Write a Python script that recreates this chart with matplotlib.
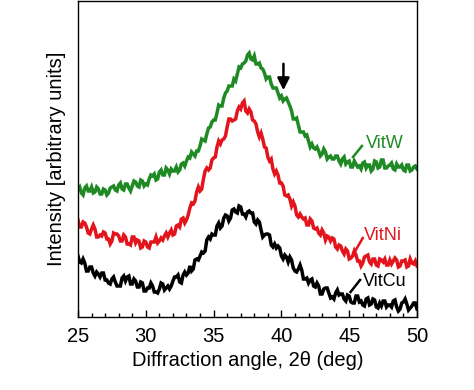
import numpy as np
import matplotlib
matplotlib.use("Agg")
import matplotlib.pyplot as plt

plt.rcParams['font.family'] = ['Liberation Sans', 'DejaVu Sans']

# readings on a 0.25 deg grid (25.00, 25.25, ... 50.00)
angle_main = np.arange(25.0, 50.0001, 0.25)
# readings half-way between (25.125, 25.375, ... 49.875)
angle_mid = np.arange(25.125, 49.9, 0.25)

vitw = [128, 124, 129, 126, 130, 125, 128, 123, 127, 124,
        130, 127, 132, 128, 133, 129, 131, 135, 130, 136,
        133, 138, 141, 137, 145, 142, 149, 143, 146, 150,
        147, 154, 156, 159, 163, 166, 171, 177, 183, 190,
        197, 204, 211, 219, 226, 231, 238, 243, 249, 254,
        262, 258, 261, 253, 249, 244, 240, 233, 229, 224,
        221, 218, 215, 206, 198, 192, 185, 181, 176, 173,
        168, 166, 163, 165, 160, 158, 161, 156, 158, 153,
        156, 150, 153, 151, 154, 149, 152, 148, 155, 150,
        157, 149, 152, 148, 153, 150, 147, 152, 146, 150,
        148]
vitw_mid = [130, 122, 131, 126, 124, 130, 123, 128, 122, 129,
            131, 126, 134, 127, 133, 126, 136, 131, 137, 131,
            132, 142, 143, 138, 147, 142, 147, 148, 146, 145,
            153, 151, 160, 165, 161, 166, 178, 176, 189, 195,
            197, 212, 211, 224, 231, 231, 236, 250, 253, 256,
            264, 257, 253, 254, 248, 238, 240, 229, 229, 219,
            216, 219, 211, 198, 199, 185, 185, 182, 170, 169,
            170, 161, 168, 158, 161, 158, 161, 153, 160, 155,
            150, 156, 150, 148, 155, 152, 146, 156, 149, 157,
            149, 151, 154, 147, 150, 152, 146, 152, 147, 151]

vitni = [97, 90, 94, 84, 88, 88, 80, 81, 84, 78,
         76, 83, 81, 76, 80, 73, 80, 74, 76, 70,
         75, 69, 75, 80, 76, 77, 84, 84, 82, 91,
         90, 99, 97, 109, 113, 125, 126, 138, 149, 149,
         159, 170, 173, 178, 190, 198, 197, 206, 208, 216,
         204, 205, 196, 185, 184, 170, 160, 158, 143, 142,
         134, 122, 122, 111, 111, 100, 100, 99, 92, 96,
         88, 84, 87, 77, 80, 79, 70, 72, 66, 68,
         58, 61, 62, 56, 54, 61, 55, 58, 52, 58,
         55, 52, 57, 56, 57, 51, 56, 50, 58, 53,
         51]
vitni_mid = [90, 95, 90, 83, 92, 80, 82, 85, 78, 73,
             84, 83, 76, 82, 73, 72, 80, 77, 69, 76,
             70, 75, 75, 74, 79, 81, 80, 87, 83, 92,
             98, 94, 102, 114, 116, 130, 128, 146, 147, 157,
             160, 176, 177, 181, 198, 196, 198, 210, 214, 206,
             208, 197, 193, 180, 178, 169, 156, 148, 146, 134,
             131, 121, 118, 115, 102, 103, 98, 92, 98, 89,
             89, 82, 84, 81, 76, 78, 68, 71, 63, 66,
             59, 66, 56, 51, 60, 62, 53, 58, 51, 57,
             58, 52, 53, 59, 50, 56, 57, 51, 54, 56]

vitcu = [61, 54, 54, 46, 50, 41, 43, 44, 37, 34,
         38, 35, 31, 39, 36, 41, 33, 36, 30, 34,
         26, 29, 31, 25, 28, 33, 29, 28, 36, 40,
         35, 42, 42, 51, 48, 58, 61, 64, 77, 78,
         82, 91, 89, 99, 101, 99, 108, 104, 110, 103,
         105, 104, 95, 97, 87, 82, 83, 72, 73, 71,
         61, 62, 55, 57, 46, 48, 47, 38, 34, 38,
         30, 31, 23, 29, 24, 20, 24, 22, 23, 16,
         21, 14, 21, 15, 12, 18, 12, 18, 10, 14,
         16, 10, 12, 16, 10, 8, 15, 13, 9, 14,
         8]
vitcu_mid = [55, 58, 46, 50, 44, 45, 40, 44, 37, 33,
             40, 31, 31, 41, 40, 33, 38, 30, 35, 26,
             29, 34, 25, 24, 34, 27, 31, 31, 40, 42,
             34, 45, 44, 46, 57, 57, 65, 66, 80, 83,
             82, 94, 91, 102, 96, 107, 105, 111, 103, 100,
             106, 104, 93, 95, 80, 83, 82, 70, 69, 69,
             58, 60, 60, 49, 45, 52, 38, 39, 37, 31,
             34, 23, 28, 29, 19, 18, 27, 23, 18, 22,
             15, 14, 21, 16, 11, 19, 13, 17, 9, 11,
             16, 12, 10, 17, 6, 14, 18, 7, 11, 14]

series_names = ["VitW", "VitNi", "VitCu"]
colors = ["#1f8a24", "#e3141c", "#000000"]

fig = plt.figure(figsize=(4.74, 3.90), dpi=100)
ax = fig.add_axes([78/474, (390-317)/390, (417-78)/474, 316/390])

for main, mid, c in zip([vitw, vitni, vitcu], [vitw_mid, vitni_mid, vitcu_mid], colors):
    x = np.empty(len(main) + len(mid))
    y = np.empty(len(main) + len(mid))
    x[0::2], x[1::2] = angle_main, angle_mid
    y[0::2], y[1::2] = main, mid
    ax.plot(x, y, color=c, lw=2.5, solid_joinstyle='miter')

ax.set_xlim(25, 50)
ax.set_ylim(0, 316)
ax.set_xticks([25, 30, 35, 40, 45, 50])
ax.set_xticks(np.arange(25, 51, 1), minor=True)
ax.set_yticks([])
ax.tick_params(axis='x', which='major', direction='in', length=5, width=1, labelsize=14.5, pad=7)
ax.tick_params(axis='x', which='minor', direction='in', length=3, width=1)
for s in ax.spines.values():
    s.set_linewidth(1.0)

ax.set_xlabel("Diffraction angle, 2\u03b8 (deg)", fontsize=14.5, labelpad=4)
ax.set_ylabel("Intensity [arbitrary units]", fontsize=14.5, labelpad=9)

# labels with leader lines
label_pos = [(46.2, 174), (46.1, 82), (46.0, 35)]
leaders = [((45.28, 160), (45.94, 171)), ((45.4, 65), (46.0, 79)), ((45.1, 25), (45.8, 37))]
for name, c, (tx, ty), ((x0, y0), (x1, y1)) in zip(series_names, colors, label_pos, leaders):
    ax.text(tx, ty, name, color=c, fontsize=13, va='center', ha='left')
    ax.plot([x0, x1], [y0, y1], color=c, lw=1.8)

# arrow marking shoulder
ax.annotate("", xy=(40.15, 224), xytext=(40.15, 256),
            arrowprops=dict(arrowstyle='-|>', color='black', lw=1.8, mutation_scale=18))

fig.savefig("out.png", dpi=100)
